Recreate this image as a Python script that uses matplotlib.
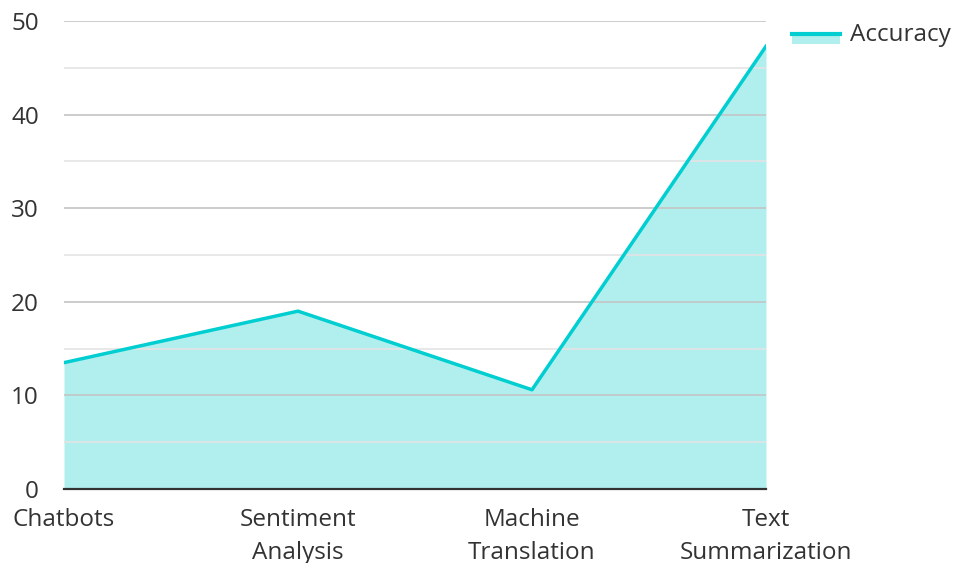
import matplotlib
matplotlib.use("Agg")
import matplotlib.pyplot as plt
from matplotlib.patches import Rectangle
from matplotlib.lines import Line2D
from matplotlib.legend_handler import HandlerBase
from matplotlib.ticker import MultipleLocator

categories = ["Chatbots", "Sentiment\nAnalysis", "Machine\nTranslation", "Text\nSummarization"]
accuracy = [13.5, 19.0, 10.6, 47.3]
series_name = "Accuracy"

plt.rcParams['font.family'] = ['Open Sans', 'DejaVu Sans']
line_color = "#00CED1"
fill_color = "#B0EFEE"
text_color = "#333333"


class AreaHandler(HandlerBase):
    def create_artists(self, legend, orig_handle, xdescent, ydescent,
                       width, height, fontsize, trans):
        top = height * 0.42
        bottom = -height * 0.18
        rect = Rectangle((-xdescent, bottom - ydescent), width,
                         top - bottom, facecolor=fill_color,
                         edgecolor='none', transform=trans)
        line = Line2D([-xdescent, -xdescent + width], [top, top],
                      color=line_color, linewidth=3, transform=trans)
        return [rect, line]


fig = plt.figure(figsize=(9.56, 5.63), dpi=100)
ax = fig.add_axes([64/956, 1-489/563, (766-64)/956, (489-21)/563])
x = list(range(len(categories)))
ax.fill_between(x, 0, accuracy, color=fill_color, zorder=1, linewidth=0)
ax.plot(x, accuracy, color=line_color, linewidth=2.5, zorder=3)

ax.set_xlim(0, len(categories)-1)
ax.set_ylim(0, 50)
ax.yaxis.set_major_locator(MultipleLocator(10))
ax.yaxis.set_minor_locator(MultipleLocator(5))
ax.grid(axis='y', which='major', color='#c4c4c4', linewidth=1.2, zorder=2)
ax.grid(axis='y', which='minor', color='#e4e4e4', linewidth=1.2, zorder=2)
ax.set_axisbelow(False)
ax.set_xticks(x)
ax.set_xticklabels(categories)
for s in ['top', 'right', 'left']:
    ax.spines[s].set_visible(False)
ax.spines['bottom'].set_color(text_color)
ax.spines['bottom'].set_linewidth(1.6)
ax.spines['bottom'].set_zorder(4)
ax.tick_params(axis='both', which='both', length=0, labelsize=17.5, labelcolor=text_color)
ax.tick_params(axis='x', pad=14)
ax.tick_params(axis='y', pad=18)
for lbl in ax.get_xticklabels():
    lbl.set_linespacing(1.45)

leg = fig.legend(["area"], [series_name], loc='upper left',
                 handler_map={str: AreaHandler()},
                 bbox_to_anchor=(792/956, 1-23/563), frameon=False,
                 borderpad=0, borderaxespad=0,
                 fontsize=17.5, handlelength=1.97, handleheight=0.7,
                 handletextpad=0.41, labelcolor=text_color)
fig.savefig("out.png", dpi=100)
